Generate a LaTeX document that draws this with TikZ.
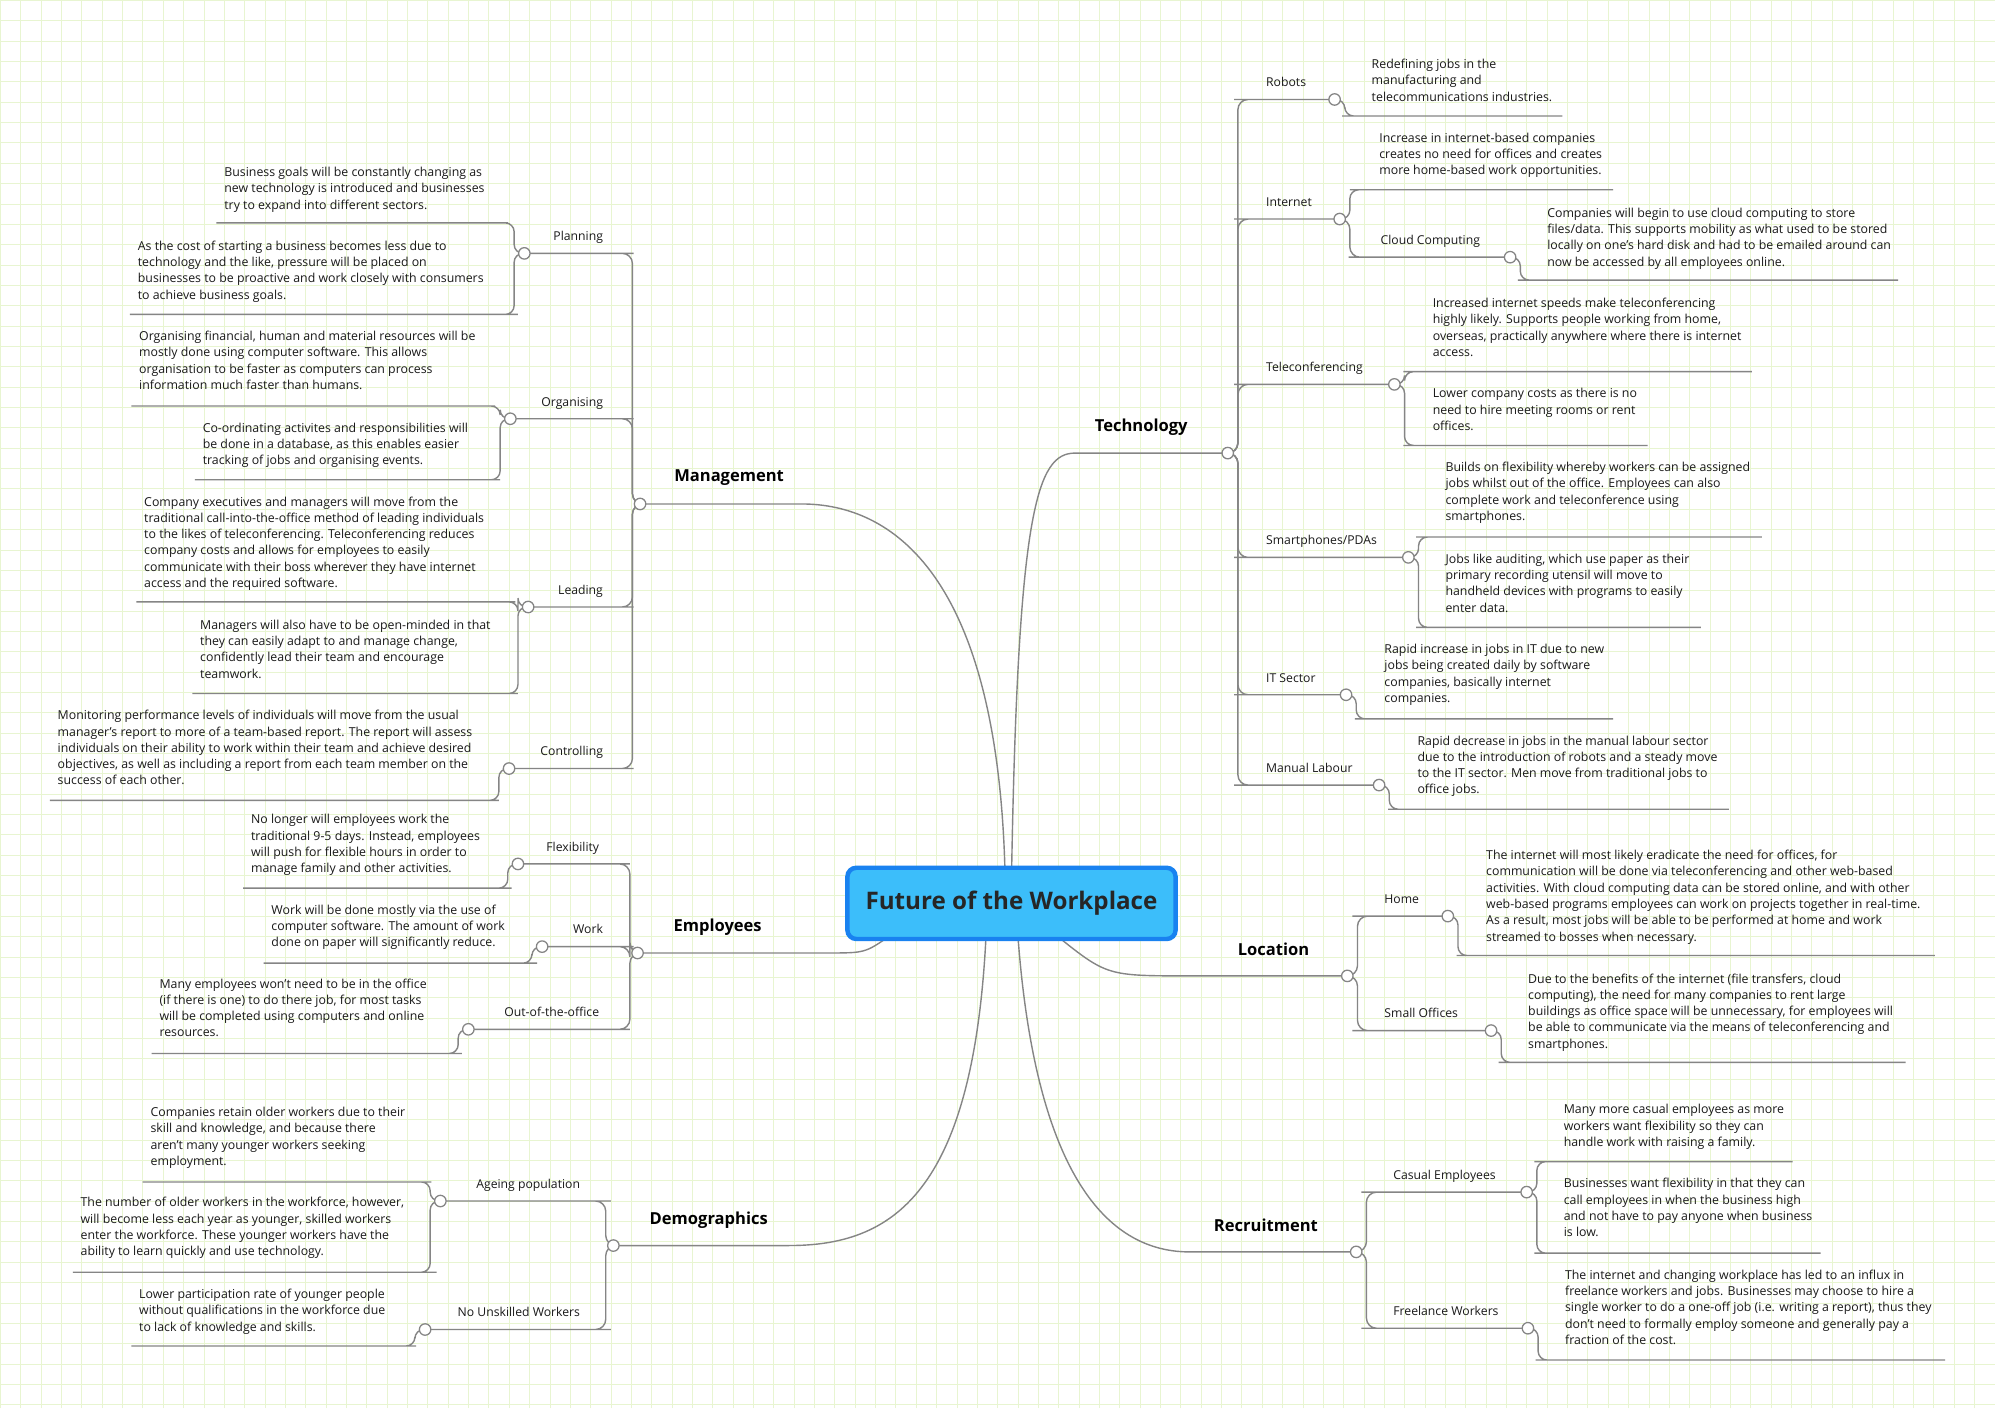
\documentclass[tikz,border=0pt]{standalone}
\usepackage{fontspec}
\setmainfont{Open Sans}
\definecolor{cfill}{RGB}{60,190,250}
\definecolor{cdraw}{RGB}{25,130,240}
\tikzset{
  conn/.style={draw=black!48, line width=1.1pt},
  dot/.style={circle, draw=black!48, fill=white, line width=1pt, minimum size=9pt, inner sep=0pt},
  leaf/.style={inner sep=0pt, align=left, font=\fontsize{9.7}{12.8}\selectfont, text=black!90},
  sub/.style={inner sep=0pt, font=\fontsize{9.6}{11}\selectfont, text=black!90},
  maint/.style={inner sep=0pt, font=\bfseries\fontsize{13}{14}\selectfont},
}
\newcommand{\lfL}[6]{\draw[conn,rounded corners=7] (#1) -- ++(-8,0) |- (#4,#2) -- (#3,#2);
  \node[leaf,anchor=north west] at (#3+6,#5-5) {#6};}
\newcommand{\lfR}[6]{\draw[conn,rounded corners=7] (#1) -- ++(8,0) |- (#3,#2) -- (#4,#2);
  \node[leaf,anchor=north west] at (#3+16,#5-5) {#6};}
\newcommand{\sbL}[6]{\coordinate (#2e) at (#5,#4); \coordinate (#2) at (#3,#4);
  \draw[conn,rounded corners=8] (#1) -- ++(-6,0) |- (#2e) -- (#2);
  \node[sub,anchor=base east] at (#5-16,#4-10) {#6};}
\newcommand{\sbR}[6]{\coordinate (#2e) at (#5,#4); \coordinate (#2) at (#3,#4);
  \draw[conn,rounded corners=8] (#1) -- ++(8,0) |- (#2e) -- (#2);
  \node[sub,anchor=base west] at (#5+17,#4-10) {#6};}
\begin{document}
\begin{tikzpicture}[x=1pt,y=-1pt]
\fill[white] (0,0) rectangle (1568,1107);
\draw[step=16pt, color=yellow!50!green!18, line width=0.4pt] (0,0) grid (1568,1107);
\useasboundingbox (0,0) rectangle (1568,1107);

\coordinate (M) at (503,396); \coordinate (T) at (965,356); \coordinate (E) at (501,749);
\coordinate (D) at (482,979); \coordinate (L) at (1059,767); \coordinate (R) at (1066,984);

\draw[conn] (790,690) .. controls (785,450) and (700,396) .. (630,396) -- (M);
\draw[conn] (795,690) .. controls (800,400) and (815,356) .. (845,356) -- (T);
\draw[conn] (700,735) .. controls (680,749) .. (650,749) -- (E);
\draw[conn] (775,735) .. controls (765,940) and (700,979) .. (620,979) -- (D);
\draw[conn] (830,735) .. controls (870,767) .. (935,767) -- (L);
\draw[conn] (800,735) .. controls (815,940) and (880,984) .. (935,984) -- (R);
\node[maint] at (573,375) {Management};
\node[maint] at (897,336) {Technology};
\node[maint] at (564,729) {Employees};
\node[maint] at (557,959) {Demographics};
\node[maint] at (1001,746) {Location};
\node[maint] at (995,963) {Recruitment};

\sbL{M}{pl}{412}{199}{490}{Planning}
\sbL{M}{org}{401}{329}{490}{Organising}
\sbL{M}{lead}{415}{477}{490}{Leading}
\sbL{M}{ctl}{400}{604}{490}{Controlling}
\lfL{pl}{175}{170}{392}{136}{Business goals will be constantly changing as\\new technology is introduced and businesses\\try to expand into different sectors.}
\lfL{pl}{247}{102}{400}{194}{As the cost of starting a business becomes less due to\\technology and the like, pressure will be placed on\\businesses to be proactive and work closely with consumers\\to achieve business goals.}
\lfL{org}{319}{103}{382}{265}{Organising financial, human and material resources will be\\mostly done using computer software. This allows\\organisation to be faster as computers can process\\information much faster than humans.}
\lfL{org}{377}{153}{386}{337}{Co-ordinating activites and responsibilities will\\be done in a database, as this enables easier\\tracking of jobs and organising events.}
\lfL{lead}{473}{107}{398}{395}{Company executives and managers will move from the\\traditional call-into-the-office method of leading individuals\\to the likes of teleconferencing. Teleconferencing reduces\\company costs and allows for employees to easily\\communicate with their boss wherever they have internet\\access and the required software.}
\lfL{lead}{545}{151}{400}{492}{Managers will also have to be open-minded in that\\they can easily adapt to and manage change,\\confidently lead their team and encourage\\teamwork.}
\lfL{ctl}{629}{39}{385}{563}{Monitoring performance levels of individuals will move from the usual\\manager's report to more of a team-based report. The report will assess\\individuals on their ability to work within their team and achieve desired\\objectives, as well as including a report from each team member on the\\success of each other.}

\sbL{E}{flex}{407}{679}{487}{Flexibility}
\sbL{E}{work}{426}{744}{490}{Work}
\sbL{E}{out}{368}{809}{487}{Out-of-the-office}
\lfL{flex}{698}{191}{395}{645}{No longer will employees work the\\traditional 9-5 days. Instead, employees\\will push for flexible hours in order to\\manage family and other activities.}
\lfL{work}{757}{207}{415}{716}{Work will be done mostly via the use of\\computer software. The amount of work\\done on paper will significantly reduce.}
\lfL{out}{828}{119}{356}{774}{Many employees won't need to be in the office\\(if there is one) to do there job, for most tasks\\will be completed using computers and online\\resources.}

\sbL{D}{age}{346}{944}{472}{Ageing population}
\sbL{D}{nus}{334}{1045}{472}{No Unskilled Workers}
\lfL{age}{929}{112}{332}{875}{Companies retain older workers due to their\\skill and knowledge, and because there\\aren't many younger workers seeking\\employment.}
\lfL{age}{1000}{57}{336}{946}{The number of older workers in the workforce, however,\\will become less each year as younger, skilled workers\\enter the workforce. These younger workers have the\\ability to learn quickly and use technology.}
\lfL{nus}{1058}{103}{320}{1018}{Lower participation rate of younger people\\without qualifications in the workforce due\\to lack of knowledge and skills.}

\sbR{T}{rob}{1049}{78}{978}{Robots}
\sbR{T}{int}{1053}{172}{978}{Internet}
\sbR{T}{tel}{1096}{302}{978}{Teleconferencing}
\sbR{T}{sp}{1107}{438}{978}{Smartphones/PDAs}
\sbR{T}{its}{1058}{546}{978}{IT Sector}
\sbR{T}{man}{1084}{617}{978}{Manual Labour}
\lfR{rob}{91}{1062}{1228}{51}{Redefining jobs in the\\manufacturing and\\telecommunications industries.}
\lfR{int}{149}{1068}{1268}{109}{Increase in internet-based companies\\creates no need for offices and creates\\more home-based work opportunities.}
\sbR{int}{cc}{1187}{202}{1068}{Cloud Computing}
\lfR{cc}{220}{1200}{1492}{168}{Companies will begin to use cloud computing to store\\files/data. This supports mobility as what used to be stored\\locally on one's hard disk and had to be emailed around can\\now be accessed by all employees online.}
\lfR{tel}{292}{1110}{1377}{239}{Increased internet speeds make teleconferencing\\highly likely. Supports people working from home,\\overseas, practically anywhere where there is internet\\access.}
\lfR{tel}{350}{1110}{1295}{310}{Lower company costs as there is no\\need to hire meeting rooms or rent\\offices.}
\lfR{sp}{422}{1120}{1385}{368}{Builds on flexibility whereby workers can be assigned\\jobs whilst out of the office. Employees can also\\complete work and teleconference using\\smartphones.}
\lfR{sp}{493}{1120}{1337}{440}{Jobs like auditing, which use paper as their\\primary recording utensil will move to\\handheld devices with programs to easily\\enter data.}
\lfR{its}{565}{1072}{1268}{511}{Rapid increase in jobs in IT due to new\\jobs being created daily by software\\companies, basically internet\\companies.}
\lfR{man}{636}{1098}{1359}{583}{Rapid decrease in jobs in the manual labour sector\\due to the introduction of robots and a steady move\\to the IT sector. Men move from traditional jobs to\\office jobs.}

\sbR{L}{home}{1138}{720}{1071}{Home}
\sbR{L}{so}{1172}{810}{1071}{Small Offices}
\lfR{home}{751}{1152}{1521}{673}{The internet will most likely eradicate the need for offices, for\\communication will be done via teleconferencing and other web-based\\activities. With cloud computing data can be stored online, and with other\\web-based programs employees can work on projects together in real-time.\\As a result, most jobs will be able to be performed at home and work\\streamed to bosses when necessary.}
\lfR{so}{835}{1185}{1498}{770}{Due to the benefits of the internet (file transfers, cloud\\computing), the need for many companies to rent large\\buildings as office space will be unnecessary, for employees will\\be able to communicate via the means of teleconferencing and\\smartphones.}

\sbR{R}{cas}{1200}{937}{1078}{Casual Employees}
\sbR{R}{fre}{1201}{1044}{1078}{Freelance Workers}
\lfR{cas}{913}{1213}{1409}{873}{Many more casual employees as more\\workers want flexibility so they can\\handle work with raising a family.}
\lfR{cas}{985}{1213}{1431}{931}{Businesses want flexibility in that they can\\call employees in when the business high\\and not have to pay anyone when business\\is low.}
\lfR{fre}{1069}{1214}{1529}{1003}{The internet and changing workplace has led to an influx in\\freelance workers and jobs. Businesses may choose to hire a\\single worker to do a one-off job (i.e. writing a report), thus they\\don't need to formally employ someone and generally pay a\\fraction of the cost.}

\foreach \n in {M,T,E,D,L,R,pl,org,lead,ctl,flex,work,out,age,nus,rob,int,cc,tel,sp,its,man,home,so,cas,fre}
  \node[dot] at (\n) {};

\node[draw=cdraw, line width=3.5pt, fill=cfill, rounded corners=7pt,
  minimum width=258pt, minimum height=56pt, font=\bfseries\fontsize{19}{22}\selectfont, text=black!85]
  (C) at (795,710) {Future of the Workplace};
\end{tikzpicture}
\end{document}
